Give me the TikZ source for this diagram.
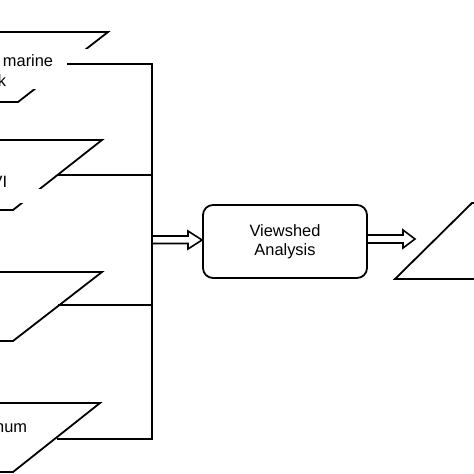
\documentclass[tikz,border=0pt]{standalone}
\usepackage{fontspec}
\setmainfont{Liberation Sans}
\usepackage{tikz}

\begin{document}
\begin{tikzpicture}[x=1pt,y=-1pt,line width=1.8pt,
    lbl/.style={font=\fontsize{16.4}{19}\selectfont,inner sep=0pt},
    hollow/.style={line width=1.6pt,line join=miter},
    process/.style={draw,rounded corners=10pt,minimum width=164pt,minimum height=73pt,
      align=center,font=\fontsize{16.4}{19}\selectfont}]
        \useasboundingbox (0,0) rectangle (474,474);
        \clip (0,0) rectangle (474,474);
        % input layers
        \draw (-200,32) -- (108,32) -- (18,102) -- (-200,102);
        \draw (-200,140) -- (102,140) -- (13,210) -- (-200,210);
        \draw (-200,272) -- (102,272) -- (13,341) -- (-200,341);
        \draw (-200,403) -- (100,403) -- (13,472) -- (-200,472);
        \fill[white] (-10,49) rectangle (90,89);
        \fill[white] (-10,189) rectangle (48,203);
        \node[lbl,anchor=east] (t1a) at (54,61) {marine};
        \node[lbl,anchor=east] (t1b) at (7,81) {k};
        \node[lbl,anchor=east] (t2) at (8,182) {VI};
        \node[lbl,anchor=east] (t4) at (28,428) {num};
        % connectors to the bus line
        \coordinate (in1) at (67,64);
        \coordinate (in2) at (58,175);
        \coordinate (in3) at (58,305);
        \coordinate (in4) at (57,439);
        \coordinate (bus) at (152,240);
        \draw (in1) -- (in1 -| bus) -- (in4 -| bus) -- (in4);
        \draw (in2) -- (in2 -| bus);
        \draw (in3) -- (in3 -| bus);
        % analysis
        \node[process] (va) at (285,241.5) {Viewshed\\Analysis};
        \draw[hollow] (152,236) -- (188,236) -- (188,231) -- (202,240)
          -- (188,249) -- (188,243.5) -- (152,243.5);
        \draw[hollow] (367,235) -- (403,235) -- (403,230) -- (415,239)
          -- (403,248) -- (403,243) -- (367,243);
        % output layer
        \draw (520,203) -- (472,203) -- (395,279) -- (520,279);
\end{tikzpicture}
\end{document}
